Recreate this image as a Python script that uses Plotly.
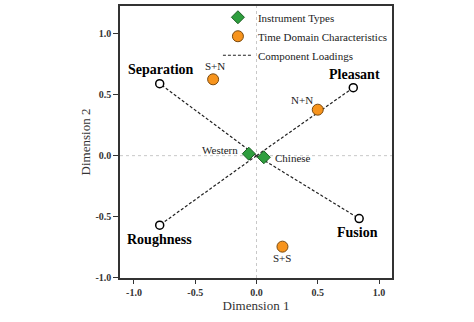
import plotly.graph_objects as go

# Instrument types
inst_names = ["Western", "Chinese"]
inst_x = [-0.063, 0.060]
inst_y = [0.016, -0.013]

# Time domain characteristics
time_names = ["S+N", "N+N", "S+S"]
time_x = [-0.354, 0.500, 0.212]
time_y = [0.626, 0.377, -0.746]

# Component loadings
load_names = ["Separation", "Pleasant", "Roughness", "Fusion"]
load_x = [-0.790, 0.790, -0.790, 0.838]
load_y = [0.590, 0.557, -0.570, -0.516]

x_ticks = [-1.0, -0.5, 0.0, 0.5, 1.0]
y_ticks = [-1.0, -0.5, 0.0, 0.5, 1.0]

SERIF = "Liberation Serif"

fig = go.Figure()

# dashed loading lines from origin
lx, ly = [], []
for x, y in zip(load_x, load_y):
    lx += [0, x, None]
    ly += [0, y, None]

fig.add_trace(go.Scatter(
    x=lx, y=ly, mode="lines", name="Component Loadings",
    line=dict(color="#222222", width=1.2, dash="3px,2px"),
    showlegend=False, hoverinfo="skip"))

fig.add_trace(go.Scatter(
    x=load_x, y=load_y, mode="markers", showlegend=False,
    marker=dict(symbol="circle", size=8, color="white",
                line=dict(color="black", width=1.5))))

fig.add_trace(go.Scatter(
    x=inst_x, y=inst_y, mode="markers", name="Instrument Types",
    marker=dict(symbol="diamond", size=10, color="#2e9e3e",
                line=dict(color="#1a5e22", width=1))))

fig.add_trace(go.Scatter(
    x=time_x, y=time_y, mode="markers", name="Time Domain Characteristics",
    marker=dict(symbol="circle", size=11, color="#f7941d",
                line=dict(color="#7a4a10", width=1))))

# legend-only line entry
fig.add_trace(go.Scatter(
    x=[None], y=[None], mode="lines", name="Component Loadings",
    line=dict(color="#222222", width=1.2, dash="3px,2px")))

ann = []
# loading labels (bold)
load_shift = [(1, 14), (1, 13), (0, -14), (-2, -14)]
for n, x, y, (dx, dy) in zip(load_names, load_x, load_y, load_shift):
    ann.append(dict(x=x, y=y, text=n, showarrow=False, xshift=dx, yshift=dy,
                    font=dict(family=SERIF, size=14, color="black", weight="bold")))
# time labels
time_shift = [(2, 13), (-16, 10), (0, -11)]
for n, x, y, (dx, dy) in zip(time_names, time_x, time_y, time_shift):
    ann.append(dict(x=x, y=y, text=n, showarrow=False, xshift=dx, yshift=dy,
                    font=dict(family=SERIF, size=11, color="#222222")))
# instrument labels
ann.append(dict(x=inst_x[0], y=inst_y[0], text=inst_names[0], showarrow=False,
                xanchor="right", xshift=-9, yshift=4,
                font=dict(family=SERIF, size=11, color="#222222")))
ann.append(dict(x=inst_x[1], y=inst_y[1], text=inst_names[1], showarrow=False,
                xanchor="left", xshift=9, yshift=-1,
                font=dict(family=SERIF, size=11, color="#222222")))

fig.update_layout(
    width=474, height=322,
    margin=dict(l=120, r=82, t=6, b=44, autoexpand=False),
    paper_bgcolor="white", plot_bgcolor="white",
    font=dict(family=SERIF, color="black"),
    annotations=ann,
    showlegend=True,
    legend=dict(x=0.36, y=1.012, xanchor="left", yanchor="top",
                bgcolor="rgba(255,255,255,0)", borderwidth=0,
                font=dict(family=SERIF, size=11, color="#222222"),
                itemwidth=30, tracegroupgap=0),
    shapes=[
        dict(type="line", xref="x", yref="paper", x0=0, x1=0, y0=0, y1=1,
             line=dict(color="#c8c8c8", width=1, dash="dot"), layer="below"),
        dict(type="line", xref="paper", yref="y", x0=0, x1=1, y0=0, y1=0,
             line=dict(color="#c8c8c8", width=1, dash="dot"), layer="below"),
    ],
)

fig.update_xaxes(
    range=[-1.114, 1.106], tickvals=x_ticks, ticktext=[f"{v:.1f}" for v in x_ticks],
    showgrid=False, zeroline=False, showline=True, mirror=True,
    linecolor="#333333", linewidth=1.5, ticks="outside", ticklen=4,
    tickcolor="#333333", ticklabelstandoff=0, automargin=False,
    tickfont=dict(family=SERIF, size=10, color="#333333", weight="bold"),
    title=dict(text="Dimension 1", font=dict(family=SERIF, size=13, color="#333333"),
               standoff=4))
fig.update_yaxes(
    range=[-1.003, 1.227], tickvals=y_ticks, ticktext=[f"{v:.1f}" for v in y_ticks],
    showgrid=False, zeroline=False, showline=True, mirror=True,
    linecolor="#333333", linewidth=1.5, ticks="outside", ticklen=5,
    tickcolor="#333333", ticklabelstandoff=0, automargin=False,
    tickfont=dict(family=SERIF, size=10, color="#333333", weight="bold"),
    title=dict(text="Dimension 2", font=dict(family=SERIF, size=13, color="#333333"),
               standoff=2))

fig.write_html("out.html")
